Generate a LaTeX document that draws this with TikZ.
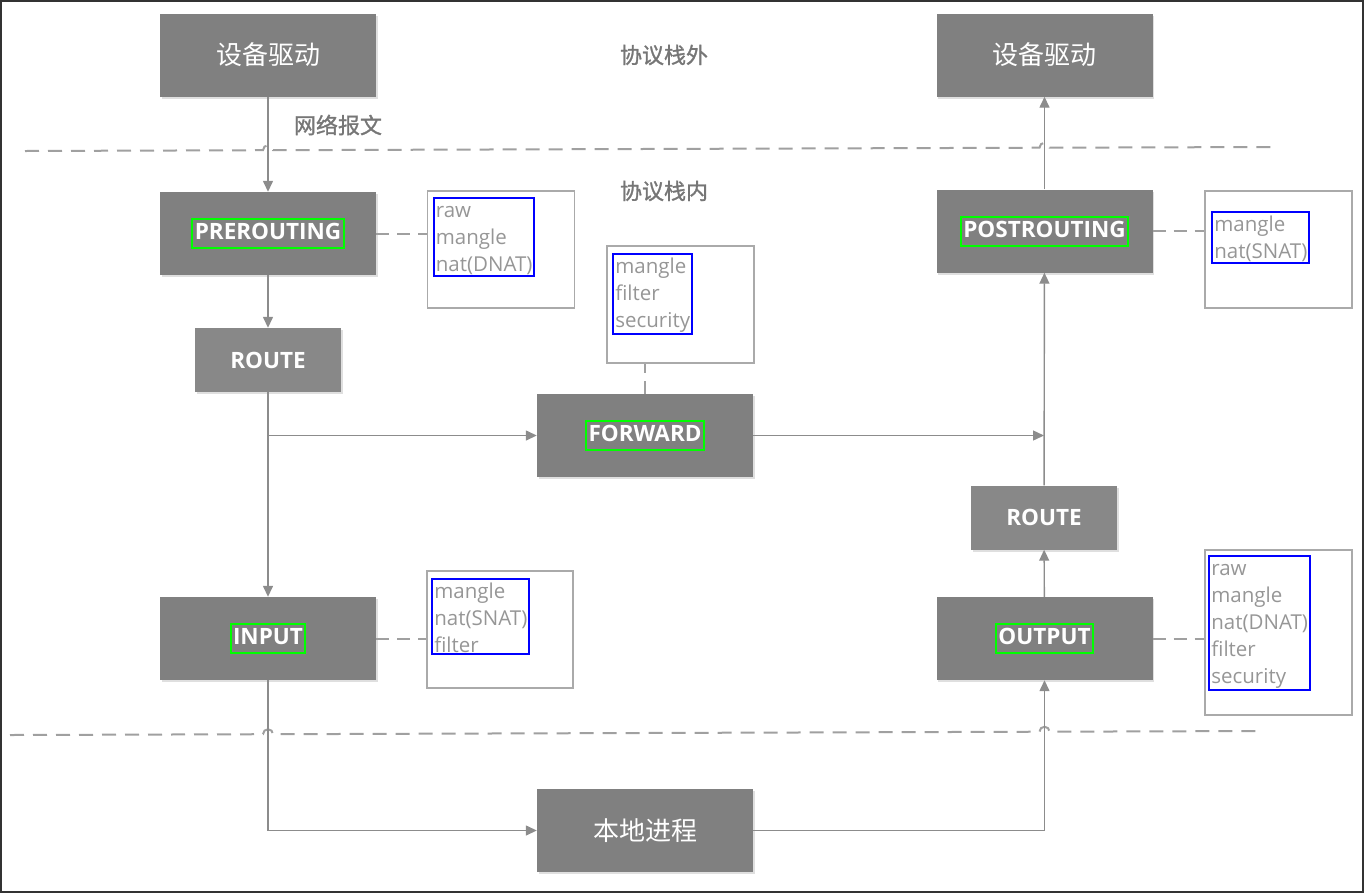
\documentclass[tikz,border=0pt]{standalone}
\usepackage{fontspec}
\setmainfont{Open Sans}
\newfontfamily\cjk{Noto Sans CJK SC}
\newfontfamily\cjkmid[FakeBold=1.2]{Noto Sans CJK SC}
\usetikzlibrary{arrows.meta,shadows,positioning}
\definecolor{boxgray}{RGB}{128,128,128}
\definecolor{routegray}{RGB}{136,136,136}
\definecolor{linegray}{RGB}{140,140,140}
\definecolor{sepgray}{RGB}{160,160,160}
\definecolor{listgray}{RGB}{150,150,150}
\definecolor{framegray}{RGB}{170,170,170}
\definecolor{labelgray}{RGB}{118,118,118}
\definecolor{tagblue}{RGB}{0,0,255}
\definecolor{taggreen}{RGB}{0,255,0}
\newcommand{\firstline}{\rule{0pt}{17.5pt}}

\begin{document}
\begin{tikzpicture}[x=1pt, y=-1pt,
    hook/.style={fill=boxgray, inner sep=0pt, minimum width=216pt, minimum height=83pt,
        drop shadow={opacity=0.25, shadow xshift=1.5pt, shadow yshift=-2pt}},
    routebox/.style={hook, fill=routegray, minimum width=146pt, minimum height=64pt},
    hooktag/.style={draw=taggreen, line width=2pt, inner sep=2.5pt, text=white,
        font=\bfseries\fontsize{22.5}{26}\selectfont, text height=18pt, text depth=6pt},
    routetag/.style={text=white, font=\bfseries\fontsize{22.5}{26}\selectfont},
    cntag/.style={text=white, font=\cjk\fontsize{26}{30}\selectfont},
    tablebox/.style={draw=framegray, line width=1.3pt, minimum width=147pt, minimum height=117pt, inner sep=0pt},
    tablelist/.style={draw=tagblue, line width=2pt, inner xsep=2pt, inner ysep=1.5pt, align=left, text=listgray,
        font=\fontsize{20.5}{27}\selectfont},
    layer/.style={text=labelgray, font=\cjkmid\fontsize{22}{26}\selectfont},
    flow/.style={draw=linegray, line width=1.4pt, -{Triangle[length=11pt, width=10pt]}},
    hooklink/.style={draw=sepgray, line width=2pt, dash pattern=on 13pt off 8pt},
    sep/.style={draw=sepgray, line width=2pt, dash pattern=on 14pt off 9pt}
]
    \useasboundingbox (0,0) rectangle (1365,895);
    \draw[line width=2.5pt, black!80] (1,1) rectangle (1363,892);

    % layers
    \draw[sep] (25,151) -- (263,150.2) arc[start angle=180, end angle=360, radius=5]
        -- (1039.5,147.7) arc[start angle=180, end angle=360, radius=5] -- (1272,147);
    \draw[sep] (10,735) -- (263,734.2) arc[start angle=180, end angle=360, radius=5]
        -- (1039.5,731.7) arc[start angle=180, end angle=360, radius=5] -- (1258,731);
    \node[layer] (outside) at (664,55) {协议栈外};
    \node[layer] (inside) at (664,191) {协议栈内};
    \node[layer] (packet) at (338,125) {网络报文};

    % hooks
    \node[hook] (drvin) at (268,55) {};
    \node[cntag] at (drvin) {设备驱动};
    \node[hook] (drvout) at (1044.5,55) {};
    \node[cntag] at (drvout) {设备驱动};
    \node[hook] (pre) at (268,233.5) {};
    \node[hooktag] at (pre) {PREROUTING};
    \node[routebox] (routein) at (268,360) {};
    \node[routetag] at (routein) {ROUTE};
    \node[hook] (fwd) at (645,435.5) {};
    \node[hooktag] at (fwd) {FORWARD};
    \node[hook] (post) at (1044.5,231) {};
    \node[hooktag] at (post) {POSTROUTING};
    \node[routebox] (routeout) at (1044,517.5) {};
    \node[routetag] at (routeout) {ROUTE};
    \node[hook] (input) at (268,638.5) {};
    \node[hooktag] at (input) {INPUT};
    \node[hook] (output) at (1044.5,638.5) {};
    \node[hooktag] at (output) {OUTPUT};
    \node[hook] (local) at (645,830.5) {};
    \node[cntag] at (local) {本地进程};

    % tables
    \node[tablebox] (prelist) at (501,249.5) {};
    \node[tablelist, below right=7pt and 6pt of prelist.north west, anchor=north west] {\firstline raw\\mangle\\nat(DNAT)};
    \node[tablebox] (fwdlist) at (680.5,304.5) {};
    \node[tablelist, below right=8pt and 6pt of fwdlist.north west, anchor=north west] {\firstline mangle\\filter\\security};
    \node[tablebox] (postlist) at (1278.5,249.5) {};
    \node[tablelist, below right=21pt and 7pt of postlist.north west, anchor=north west] {\firstline mangle\\nat(SNAT)};
    \node[tablebox, minimum width=146pt] (inlist) at (500,629.5) {};
    \node[tablelist, below right=8pt and 5pt of inlist.north west, anchor=north west] {\firstline mangle\\nat(SNAT)\\filter};
    \node[tablebox, minimum height=165pt] (outlist) at (1278.5,632.5) {};
    \node[tablelist, below right=6pt and 4pt of outlist.north west, anchor=north west] {\firstline raw\\mangle\\nat(DNAT)\\filter\\security};

    % table links
    \draw[hooklink] (pre.east) -- (pre.east -| prelist.west);
    \draw[hooklink] (fwd.north) -- (fwd.north |- fwdlist.south);
    \draw[hooklink] (post.east) -- (post.east -| postlist.west);
    \draw[hooklink] (input.east) -- (input.east -| inlist.west);
    \draw[hooklink] (output.east) -- (output.east -| outlist.west);

    % packet flow
    \draw[flow] (drvin) -- (pre);
    \draw[flow] (pre) -- (routein);
    \draw[flow] (routein) -- (input);
    \draw[flow] (routein.south |- fwd.west) -- (fwd.west);
    \draw[flow] (fwd.east) -- (fwd.east -| routeout.north);
    \draw[flow] (routeout) -- (post);
    \draw[flow] (post) -- (drvout);
    \draw[flow] (output) -- (routeout);
    \draw[flow] (input.south) |- (local.west);
    \draw[flow] (local.east) -| (output.south);
\end{tikzpicture}
\end{document}
